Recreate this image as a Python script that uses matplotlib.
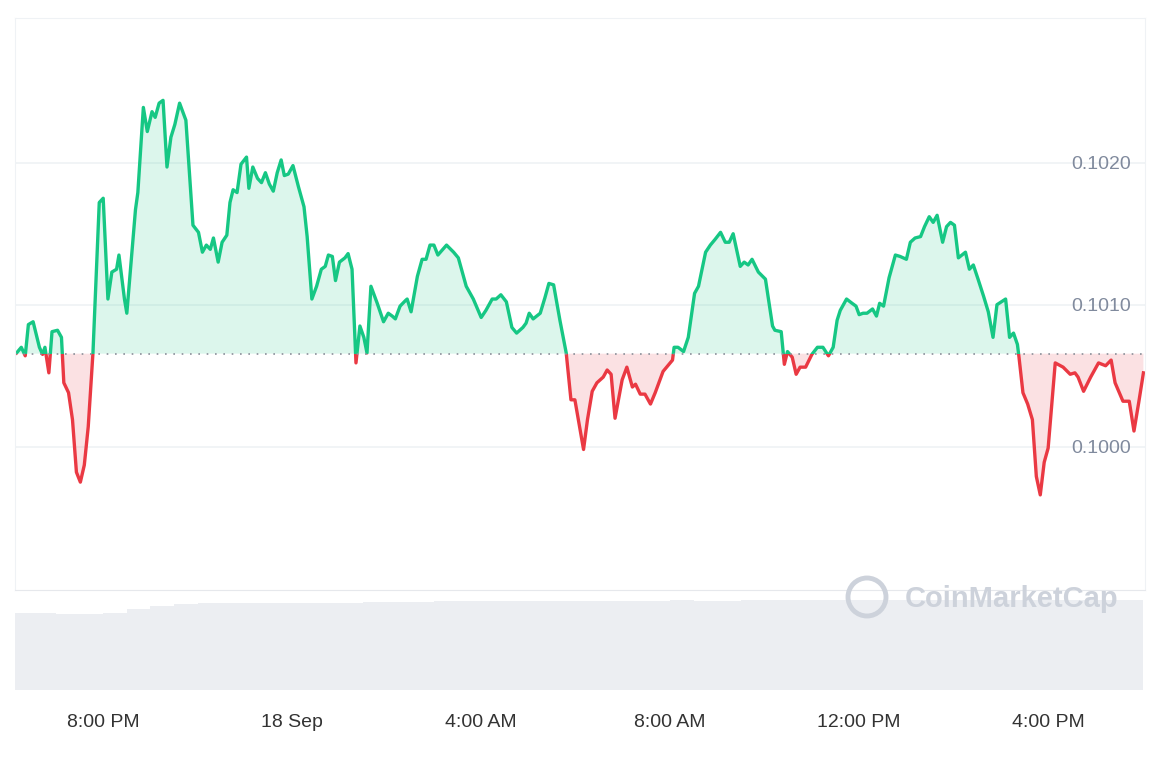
import matplotlib.pyplot as plt
import numpy as np
from matplotlib.patches import Rectangle, Circle

# minutes since 17 Sep 18:00
minutes = [10, 16, 21, 25, 31, 39, 43, 46, 51, 55, 62, 67, 70, 76, 81, 86, 91, 96, 101, 107,
           115, 120, 126, 131, 137, 140, 147, 150, 161, 164, 171, 176, 182, 186, 191, 196, 201, 206, 211, 217,
           225, 234, 241, 246, 251, 256, 260, 266, 271, 277, 281, 285, 290, 295, 302, 305, 310, 316, 321, 326,
           331, 336, 341, 346, 350, 355, 361, 368, 375, 379, 385, 391, 397, 402, 406, 411, 415, 420, 427, 431,
           436, 441, 446, 451, 455, 460, 468, 476, 482, 487, 491, 497, 504, 506, 511, 519, 525, 530, 535, 540,
           545, 556, 565, 571, 581, 590, 600, 606, 614, 619, 625, 632, 639, 645, 653, 657, 661, 666, 675, 681,
           686, 692, 700, 708, 714, 719, 730, 735, 741, 747, 755, 760, 765, 770, 779, 785, 792, 796, 802, 808,
           815, 821, 831, 843, 845, 850, 857, 863, 871, 876, 885, 891, 897, 904, 910, 915, 920, 929, 934, 939,
           944, 952, 961, 970, 973, 981, 985, 989, 995, 1000, 1005, 1012, 1020, 1027, 1034, 1041, 1047, 1052, 1056, 1064,
           1071, 1076, 1080, 1085, 1090, 1097, 1102, 1106, 1111, 1118, 1126, 1132, 1140, 1145, 1151, 1158, 1163, 1169, 1174, 1179,
           1186, 1191, 1196, 1201, 1206, 1215, 1220, 1225, 1231, 1238, 1244, 1250, 1255, 1266, 1271, 1276, 1281, 1283, 1288, 1294,
           1300, 1305, 1310, 1315, 1320, 1329, 1339, 1348, 1354, 1358, 1365, 1374, 1384, 1393, 1400, 1405, 1415, 1423, 1429, 1435,
           1441]
# price x 10^4
price_e4 = [1006.6, 1007.0, 1006.4, 1008.6, 1008.8, 1007.0, 1006.5, 1007.0, 1005.2, 1008.1, 1008.2, 1007.7, 1004.5, 1003.8, 1001.9, 998.2, 997.5, 998.7, 1001.4, 1006.6,
            1017.2, 1017.5, 1010.4, 1012.3, 1012.5, 1013.5, 1010.4, 1009.4, 1016.7, 1017.9, 1023.9, 1022.2, 1023.6, 1023.2, 1024.2, 1024.4, 1019.7, 1021.8, 1022.7, 1024.2,
            1023.0, 1015.6, 1015.1, 1013.7, 1014.2, 1013.9, 1014.7, 1013.0, 1014.4, 1014.9, 1017.2, 1018.1, 1017.9, 1019.9, 1020.4, 1018.2, 1019.7, 1018.9, 1018.6, 1019.3,
            1018.5, 1018.0, 1019.3, 1020.2, 1019.1, 1019.2, 1019.8, 1018.3, 1016.9, 1014.8, 1010.4, 1011.3, 1012.5, 1012.7, 1013.5, 1013.4, 1011.7, 1013.0, 1013.3, 1013.6,
            1012.5, 1005.9, 1008.5, 1007.7, 1006.6, 1011.3, 1010.1, 1008.8, 1009.4, 1009.2, 1009.0, 1009.9, 1010.3, 1010.4, 1009.5, 1012.0, 1013.2, 1013.2, 1014.2, 1014.2,
            1013.5, 1014.2, 1013.7, 1013.3, 1011.3, 1010.4, 1009.1, 1009.6, 1010.4, 1010.4, 1010.7, 1010.2, 1008.4, 1008.0, 1008.4, 1008.7, 1009.4, 1009.0, 1009.4, 1010.5,
            1011.5, 1011.4, 1008.9, 1006.6, 1003.3, 1003.3, 999.8, 1001.9, 1003.9, 1004.5, 1004.9, 1005.4, 1005.1, 1002.0, 1004.7, 1005.6, 1004.2, 1004.4, 1003.7, 1003.7,
            1003.0, 1003.8, 1005.3, 1006.1, 1007.0, 1007.0, 1006.7, 1007.7, 1010.8, 1011.3, 1013.7, 1014.2, 1014.6, 1015.1, 1014.4, 1014.4, 1015.0, 1012.7, 1013.0, 1012.8,
            1013.2, 1012.3, 1011.8, 1008.5, 1008.2, 1008.1, 1005.8, 1006.7, 1006.3, 1005.1, 1005.6, 1005.6, 1006.5, 1007.0, 1007.0, 1006.4, 1007.0, 1008.9, 1009.6, 1010.4,
            1010.1, 1009.9, 1009.3, 1009.4, 1009.4, 1009.7, 1009.2, 1010.1, 1009.9, 1011.9, 1013.5, 1013.4, 1013.2, 1014.4, 1014.7, 1014.8, 1015.5, 1016.2, 1015.8, 1016.3,
            1014.4, 1015.5, 1015.8, 1015.6, 1013.3, 1013.7, 1012.5, 1012.8, 1011.8, 1010.6, 1009.5, 1007.7, 1010.0, 1010.4, 1007.7, 1008.0, 1007.2, 1006.3, 1003.8, 1003.0,
            1001.9, 997.9, 996.6, 998.9, 999.9, 1005.9, 1005.6, 1005.1, 1005.2, 1004.9, 1003.9, 1004.9, 1005.9, 1005.7, 1006.1, 1004.5, 1003.2, 1003.2, 1001.1, 1003.1,
            1005.2]
ref_price = 0.100655

# volume per half hour (arbitrary units)
vol_minutes = np.arange(15, 1440, 30)
volume = [7.8, 7.8, 7.7, 7.7, 7.8, 8.2, 8.5, 8.7, 8.8, 8.8, 8.8, 8.8, 8.8, 8.8, 8.8, 8.9,
          8.9, 8.9, 9.0, 9.0, 9.0, 9.0, 9.0, 9.0, 9.0, 9.0, 9.0, 9.0, 9.1, 9.0, 9.0, 9.1,
          9.1, 9.1, 9.1, 9.1, 9.1, 9.1, 9.1, 9.1, 9.1, 9.1, 9.1, 9.1, 9.1, 9.1, 9.1, 9.1]

tick_minutes = [120, 360, 600, 840, 1080, 1320]
tick_labels = ["8:00 PM", "18 Sep", "4:00 AM", "8:00 AM", "12:00 PM", "4:00 PM"]

plt.rcParams["font.family"] = ["Liberation Sans", "DejaVu Sans"]

t = np.array(minutes, dtype=float)
p = np.array(price_e4) / 1e4
green = "#16c784"
red = "#ea3943"
xlim = (8, 1443)

fig = plt.figure(figsize=(11.6, 7.73), dpi=100)
ax = fig.add_axes([15 / 1160, 1 - 590 / 773, 1130 / 1160, 572 / 773])
axv = fig.add_axes([15 / 1160, 1 - 690 / 773, 1130 / 1160, 90 / 773])

ax.fill_between(t, p, ref_price, where=p >= ref_price, interpolate=True, color=green, alpha=0.15, lw=0)
ax.fill_between(t, p, ref_price, where=p <= ref_price, interpolate=True, color=red, alpha=0.15, lw=0)
lg, = ax.plot(t, p, color=green, lw=2.4, solid_joinstyle="round")
lr, = ax.plot(t, p, color=red, lw=2.4, solid_joinstyle="round")
lg.set_clip_path(Rectangle((xlim[0], ref_price), xlim[1] - xlim[0], 1, transform=ax.transData))
lr.set_clip_path(Rectangle((xlim[0], 0), xlim[1] - xlim[0], ref_price, transform=ax.transData))
ax.axhline(ref_price, color="#8a8f99", lw=1.2, ls=(0, (1, 4)))

ax.set_xlim(*xlim)
ax.set_ylim(0.09899, 0.10302)
ax.set_yticks([0.1000, 0.1010, 0.1020])
ax.set_yticklabels(["0.1000", "0.1010", "0.1020"])
ax.yaxis.tick_right()
ax.tick_params(axis="y", direction="in", length=0, pad=-53, labelsize=14, labelcolor="#808a9d")
ax.set_xticks([])
ax.grid(axis="y", color="#eff2f5", lw=1.2)
ax.set_axisbelow(True)
for s in ["left", "right", "top"]:
    ax.spines[s].set_color("#eff2f5")
ax.spines["bottom"].set_color("#e6e8ec")

axv.bar(vol_minutes, volume, width=30, color="#eceef2", lw=0)
axv.set_xlim(*xlim)
axv.set_ylim(0, 9.1)
axv.set_yticks([])
axv.set_xticks(tick_minutes)
axv.set_xticklabels(tick_labels)
axv.tick_params(axis="x", length=0, pad=17, labelsize=14, labelcolor="#333333")
for s in axv.spines.values():
    s.set_visible(False)

# watermark
fig.patches.append(Circle((867, 773 - 597), 19, transform=None, fill=False, ec="#cdd2db", lw=3.5))
fig.text(905 / 1160, 1 - 599 / 773, "CoinMarketCap", fontsize=21, color="#cdd2db",
         fontweight="bold", va="center", ha="left")

fig.savefig("out.png", dpi=100)
